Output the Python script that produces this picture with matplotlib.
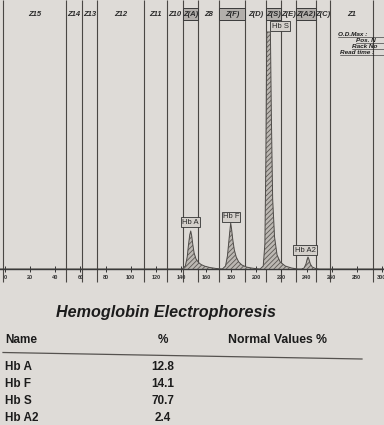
import matplotlib
matplotlib.use("Agg")
import matplotlib.pyplot as plt
from matplotlib.patches import Rectangle
from matplotlib.lines import Line2D

# zone boundaries (mobility units) and the zone names between them
zone_bounds = [-1.6, 48.5, 61.3, 73.2, 110.6, 128.9, 141.6, 153.6, 170.3,
               191.0, 207.7, 219.6, 231.6, 247.5, 258.6, 292.8]
zone_names = ["Z15", "Z14", "Z13", "Z12", "Z11", "Z10", "Z(A)", "Z8", "Z(F)",
              "Z(D)", "Z(S)", "Z(E)", "Z(A2)", "Z(C)", "Z1"]
boxed_zones = ["Z(A)", "Z(F)", "Z(S)", "Z(A2)"]

# densitometry trace (Hb S is off scale, flat top)
hbA_x = [141, 143.5, 145, 146, 147, 147.8, 148.6, 149.5, 150.5, 152, 154, 156, 159, 163, 168]
hbA_y = [0, 3, 12, 24, 34, 38, 33, 24, 16, 10, 6.5, 4.5, 2.8, 1.5, 0.5]
hbF_x = [173, 175.5, 177, 178, 179, 179.6, 180.3, 181.3, 182.5, 184, 186, 188.5, 192, 196, 200]
hbF_y = [0, 3, 13, 26, 39, 46, 40, 29, 19, 12, 7, 4, 2, 1, 0.3]
hbS_x = [203, 205.5, 206.8, 207.6, 208.3, 211.2, 212, 213, 214.5, 216.5, 219, 223, 228, 233]
hbS_y = [0, 3, 25, 110, 237, 237, 150, 70, 32, 14, 7, 3, 1, 0]
hbA2_x = [236, 238, 239.5, 240.5, 241.1, 241.8, 243, 244.5, 247, 250]
hbA2_y = [0, 1, 5, 10, 12, 10, 5, 2, 0.5, 0]

# peak labels
peak_names = ["Hb A", "Hb F", "Hb S", "Hb A2"]
peak_label_x = [147.6, 179.8, 218.8, 238.7]
peak_label_y = [47, 52, 243, 19]

# results table
fractions = ["Hb A", "Hb F", "Hb S", "Hb A2"]
percents = ["12.8", "14.1", "70.7", "2.4"]

paper = "#dedbd7"
ink = "#1c1c1c"
W, H = 384, 425

plt.rcParams["font.family"] = ["Liberation Sans", "DejaVu Sans"]
plt.rcParams["hatch.linewidth"] = 0.6

fig = plt.figure(figsize=(W / 100, H / 100), dpi=100)
fig.patch.set_facecolor(paper)
ax = fig.add_axes([0, 1 - 290 / H, 1, 290 / H])
ax.set_facecolor(paper)
ax.set_xlim(-3.98, 301.6)
ax.set_ylim(-21, 269)

# zone lines
ax.vlines(zone_bounds, -13, 269, color="#4a4744", lw=0.8, zorder=1)
for i, name in enumerate(zone_names):
    lo, hi = zone_bounds[i], zone_bounds[i + 1]
    mid = (lo + hi) / 2
    if name in boxed_zones:
        ax.add_patch(Rectangle((lo, 249), hi - lo, 12, fc="#b3afab", ec="#3a3a3a",
                               lw=0.7, zorder=3))
    ax.text(mid, 255, name, ha="center", va="center", fontsize=5.5,
            fontweight="bold", fontstyle="italic", color="#2a2a2a", zorder=4)

# trace
trace_x = [-4] + hbA_x + hbF_x + hbS_x + hbA2_x + [301.6]
trace_y = [0] + hbA_y + hbF_y + hbS_y + hbA2_y + [0]
ax.fill_between(trace_x, trace_y, 0, facecolor="#bcb8b3", hatch="///////",
                edgecolor="#5c5854", linewidth=0, zorder=2)
ax.plot(trace_x, trace_y, color="#4e4b48", lw=0.7, zorder=2)

for name, lx, ly in zip(peak_names, peak_label_x, peak_label_y):
    ax.text(lx, ly, name, ha="center", va="center", fontsize=5.5, color="#2a2a2a",
            bbox=dict(boxstyle="square,pad=0.15", fc="#d4d0cb", ec="#333333", lw=0.6),
            zorder=5)

# x axis
for s in ["top", "left", "right"]:
    ax.spines[s].set_visible(False)
ax.spines["bottom"].set_position(("data", 0))
ax.spines["bottom"].set_color("#3a3a3a")
ax.spines["bottom"].set_linewidth(1.0)
ax.set_yticks([])
ax.set_xticks(range(0, 301, 20))
ax.tick_params(axis="x", direction="inout", length=5, width=0.7, colors="#333333",
               labelsize=4, pad=2)
for t in ax.get_xticklabels():
    t.set_fontweight("bold")

# header info at top right, cut by the page edge
info = [("O.D.Max :", 338, 34), ("Pos. N", 356, 40), ("Rack No", 352, 46),
        ("Read time :", 340, 52)]
for txt, px, py in info:
    fig.text(px / W, 1 - py / H, txt, ha="left", va="center", fontsize=4.6,
             fontweight="bold", fontstyle="italic", color=ink)
    fig.add_artist(Line2D([px / W, 1.0], [1 - (py + 2.6) / H] * 2,
                          color=ink, lw=0.4))

# table
fig.text(166 / W, 1 - 312 / H, "Hemoglobin Electrophoresis", ha="center", va="center",
         fontsize=11.6, fontweight="bold", fontstyle="italic", color=ink)
hdr = dict(fontsize=8.5, fontweight="bold", color=ink, va="center")
fig.text(5 / W, 1 - 340 / H, "Name", ha="left", **hdr)
fig.text(163 / W, 1 - 340 / H, "%", ha="center", **hdr)
fig.text(228 / W, 1 - 340 / H, "Normal Values %", ha="left", fontsize=8.8,
         fontweight="bold", color=ink, va="center")
fig.add_artist(Line2D([3 / W, 362 / W], [1 - 352.5 / H, 1 - 359 / H],
                      color="#55524f", lw=0.9))
for i, (name, pct) in enumerate(zip(fractions, percents)):
    y = 1 - (367 + 17 * i) / H
    fig.text(5 / W, y, name, ha="left", **hdr)
    fig.text(163 / W, y, pct, ha="center", **hdr)

fig.savefig("out.png", dpi=100, facecolor=paper)
